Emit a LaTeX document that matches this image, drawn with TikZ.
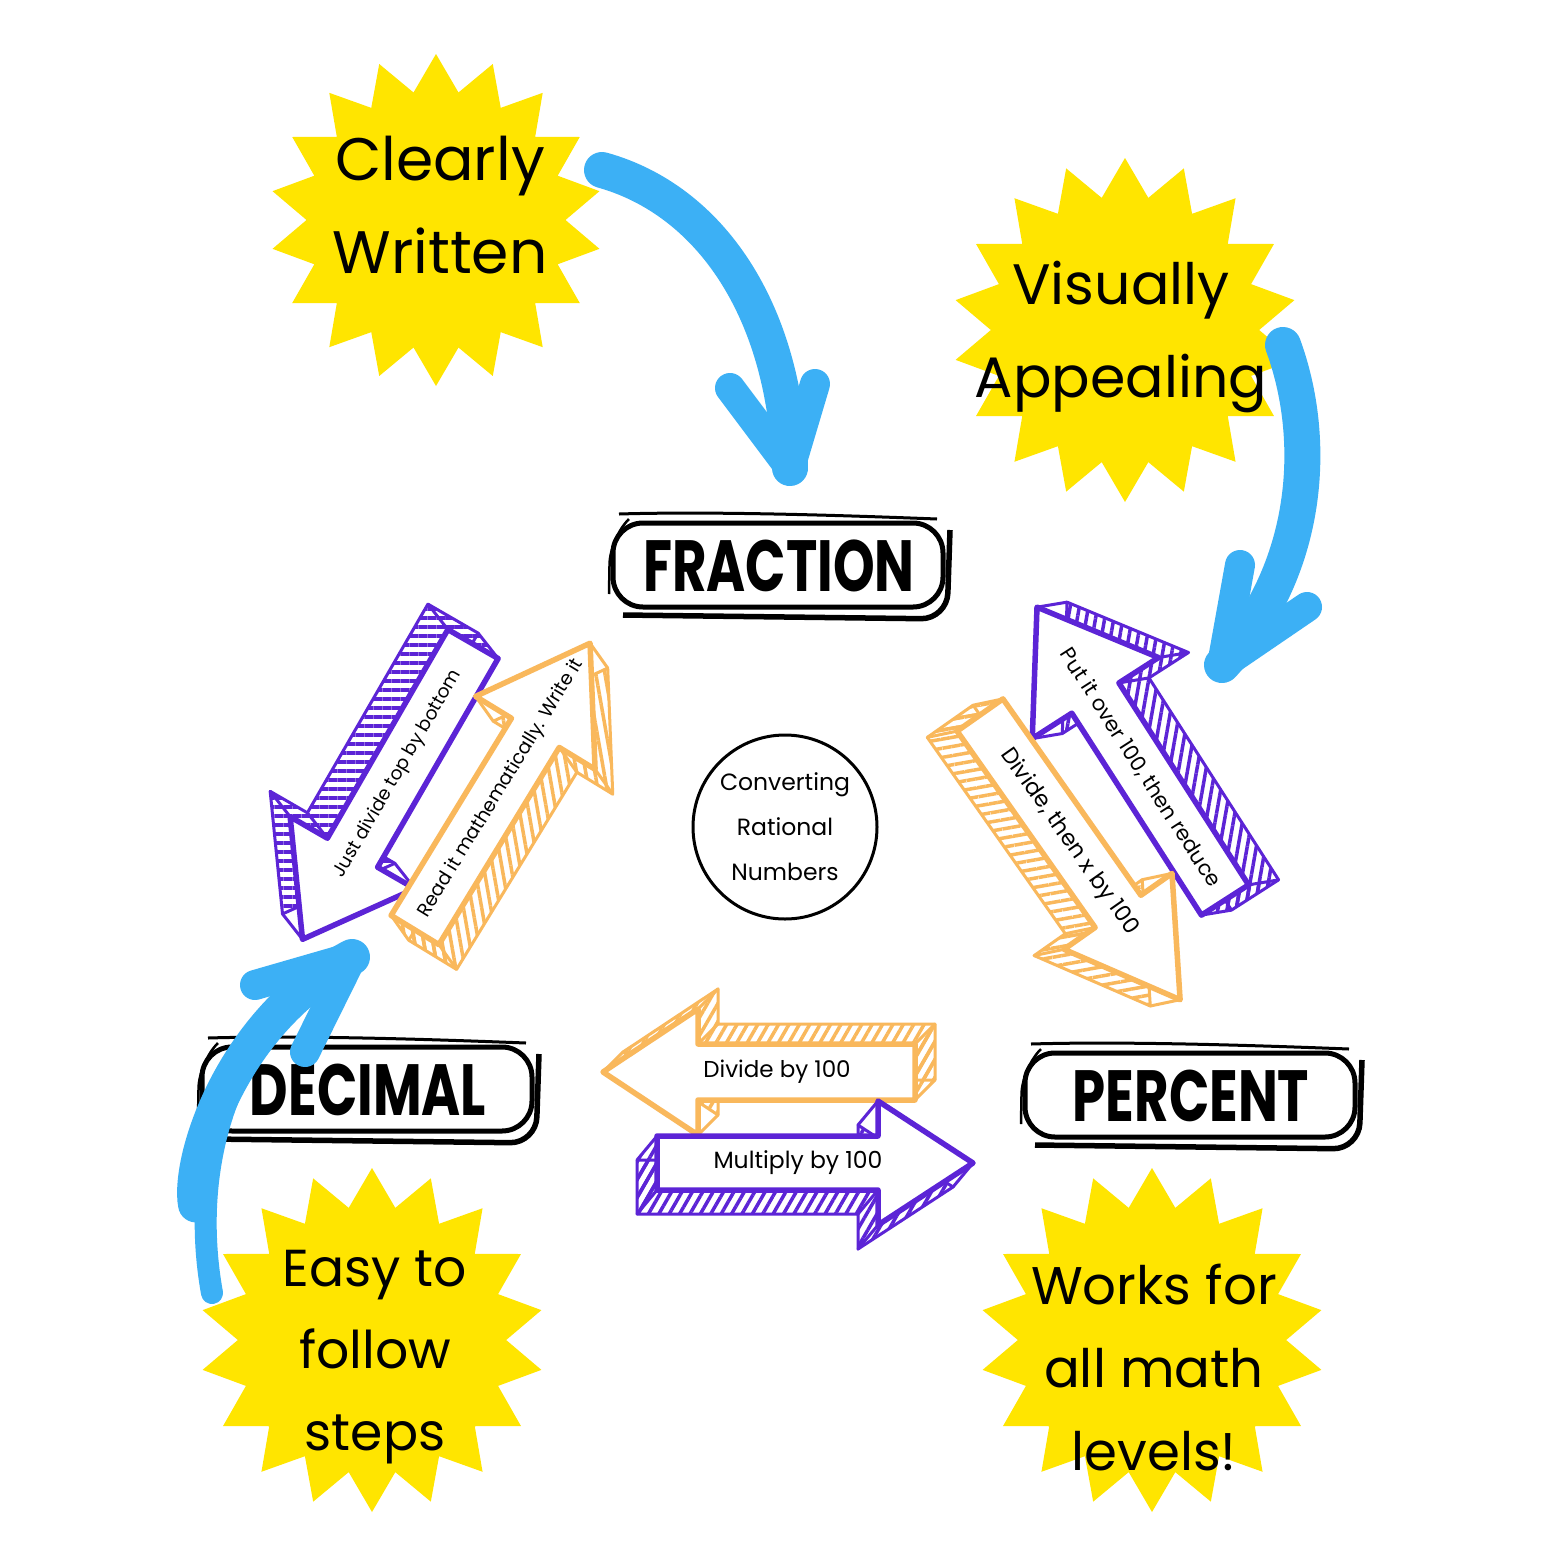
\documentclass[tikz,border=0pt]{standalone}
\usepackage{fontspec}
\usepackage{graphicx}
\setmainfont{Poppins}
\usetikzlibrary{patterns.meta,calc}
\definecolor{sunyellow}{RGB}{255,229,0}
\definecolor{skyblue}{RGB}{60,176,245}
\definecolor{violetink}{RGB}{92,36,214}
\definecolor{orangeink}{RGB}{249,184,92}

\tikzset{
  burst text/.style={align=center, font=\fontsize{54}{86}\selectfont, text=black, inner sep=0pt},
  label text/.style={font=\bfseries\fontsize{50}{50}\selectfont, inner sep=0pt},
  arrow text/.style={font=\fontsize{\afs}{\afs}\selectfont, inner sep=0pt},
  blue stroke/.style={draw=skyblue, line width=36pt, line cap=round},
  blue head/.style={draw=skyblue, line width=30pt, line cap=round, line join=round},
}

% star burst: cx, cy, R
\newcommand{\starburst}[3]{%
  \fill[sunyellow] plot[samples=37, domain=0:36, variable=\k]
   ({#1+ifthenelse(mod(\k,2)<0.5,#3,0.78*#3)*cos(90+10*\k)},
    {#2-ifthenelse(mod(\k,2)<0.5,#3,0.78*#3)*sin(90+10*\k)}) -- cycle;}

% sketchy label box: name, cx, cy, text
\newcommand{\labelbox}[4]{%
  \begin{scope}[shift={(#2,#3)}]
    \draw[line width=5pt, rounded corners=30pt] (-166,-43) rectangle (164,41);
    \draw[line width=3pt] (-160,-52) .. controls (-60,-55) and (80,-50) .. (158,-47);
    \draw[line width=5.5pt, rounded corners=26pt] (-156,49) -- (168,53) -- (171,-36);
    \draw[line width=2.5pt, rounded corners=26pt] (-170,28) -- (-169,-28) -- (-150,-47);
  \end{scope}
  \node[label text] (#1) at (#2,#3) {\scalebox{1.06}[1.45]{#4}};}

% 3D sketch arrow: name, colour, tail x, tail y, angle, length, head half width, text pos, text
\newcommand{\sketcharrow}[9]{%
  \begin{scope}[shift={(#3,#4)}, rotate={-(#5)}]
    \pgfmathsetmacro\sk{#6-\ah}
    \fill[pattern={Lines[angle=\hatchangle,distance=9pt,line width=3.5pt]}, pattern color=#2]
      (0,-\aw) -- (0,\aw) -- ++(\du,\dv) -- (\du,{\dv-\aw}) -- cycle;
    \filldraw[draw=#2, line width=3pt, line join=round,
      pattern={Lines[angle=\hatchangle,distance=9pt,line width=3.5pt]}, pattern color=#2]
      (\du,{\dv-\aw}) -- ({\sk+\du},{\dv-\aw}) -- ({\sk+\du},{\dv-#7}) -- ({#6+\du},\dv)
      -- ({\sk+\du},{\dv+#7}) -- ({\sk+\du},{\dv+\aw}) -- (\du,{\dv+\aw}) -- cycle;
    \draw[draw=#2, line width=3pt, line cap=round]
      (0,-\aw) -- ++(\du,\dv) (0,\aw) -- ++(\du,\dv) (\sk,-\aw) -- ++(\du,\dv)
      (\sk,-#7) -- ++(\du,\dv) (#6,0) -- ++(\du,\dv) (\sk,#7) -- ++(\du,\dv) (\sk,\aw) -- ++(\du,\dv);
    \filldraw[fill=white, draw=#2, line width=5.5pt, line join=round]
      (0,-\aw) -- (\sk,-\aw) -- (\sk,-#7) -- (#6,0) -- (\sk,#7) -- (\sk,\aw) -- (0,\aw) -- cycle;
    \node[arrow text, transform shape, rotate=\trot] (#1) at (#8,0) {#9};
  \end{scope}}

\begin{document}
\begin{tikzpicture}[x=1pt,y=-1pt]
\useasboundingbox (0,0) rectangle (1545,1545);
\fill[white] (0,0) rectangle (1545,1545);

% starbursts
\starburst{436}{220}{166}
\starburst{1125}{330}{172}
\starburst{372}{1340}{172}
\starburst{1152}{1340}{172}

\node[burst text, font=\fontsize{60}{93}\selectfont] (clear) at (440,205) {Clearly\\Written};
\node[burst text, font=\fontsize{57}{93}\selectfont] (visual) at (1121,337) {Visually\\Appealing};
\node[burst text, font=\fontsize{52}{82}\selectfont] (easy) at (375,1357) {Easy to\\follow\\steps};
\node[burst text, font=\fontsize{53}{83}\selectfont] (works) at (1154,1367) {Works for\\all math\\levels!};

% label boxes
\labelbox{fraction}{779}{566}{FRACTION}
\labelbox{decimal}{368}{1090}{DECIMAL}
\labelbox{percent}{1191}{1096}{PERCENT}

% centre circle
\node[draw, circle, line width=3pt, minimum size=184pt, inner sep=0pt, align=center,
      font=\fontsize{23.5}{45}\selectfont] (centre) at (785,827) {Converting\\Rational\\Numbers};

% sketch arrows
\def\aw{29}\def\ah{100}\def\du{-12}\def\dv{30}\def\trot{180}\def\afs{18.5}\def\hatchangle{0}
\sketcharrow{divide}{violetink}{473}{644}{120}{341}{72}{150}{Just divide top by bottom}
\def\aw{28}\def\ah{105}\def\du{-12}\def\dv{28}\def\trot{0}\def\afs{19}\def\hatchangle{100}
\sketcharrow{read}{orangeink}{415}{930}{-58.6}{336}{70}{166}{Read it mathematically. Write it}
\def\aw{28}\def\ah{108}\def\du{-12}\def\dv{28}\def\trot{180}\def\afs{21}\def\hatchangle{80}
\sketcharrow{putover}{violetink}{1225}{900}{237.3}{348}{75}{157}{Put it over 100, then reduce}
\def\aw{28}\def\ah{108}\def\du{-12}\def\dv{28}\def\trot{0}\def\afs{22.5}\def\hatchangle{10}
\sketcharrow{dividex}{orangeink}{980}{715}{54.9}{348}{66}{155}{Divide, then x by 100}
\def\aw{28}\def\ah{95}\def\du{-20}\def\dv{20}\def\trot{180}\def\afs{23}\def\hatchangle{60}
\sketcharrow{divhundred}{orangeink}{915}{1072}{180}{312}{63}{138}{Divide by 100}
\def\aw{27}\def\ah{95}\def\du{-20}\def\dv{24}\def\trot{0}\def\afs{23.5}\def\hatchangle{60}
\sketcharrow{multhundred}{violetink}{657}{1163}{0}{316}{62}{141}{Multiply by 100}

% blue arrows
\coordinate (b1s) at (602,170);
\coordinate (b1e) at (790,468);
\draw[blue stroke] (b1s) .. controls (710,200) and (785,310) .. (b1e);
\draw[blue head] (730,388) -- (b1e) -- (815,384);

\coordinate (b2s) at (1283,345);
\coordinate (b2e) at (1222,665);
\draw[blue stroke] (b2s) .. controls (1318,440) and (1310,570) .. (b2e);
\draw[blue head] (1240,565) -- (b2e) -- (1307,607);

\coordinate (b3s) at (212,1293);
\coordinate (b3e) at (352,957);
\draw[blue stroke, line width=22pt] (b3s) .. controls (188,1160) and (232,1020) .. (b3e);
\draw[blue stroke, shorten <=90pt] (b3s) .. controls (188,1160) and (232,1020) .. (b3e);
\draw[blue head] (255,985) -- (b3e) -- (305,1052);
\end{tikzpicture}
\end{document}
